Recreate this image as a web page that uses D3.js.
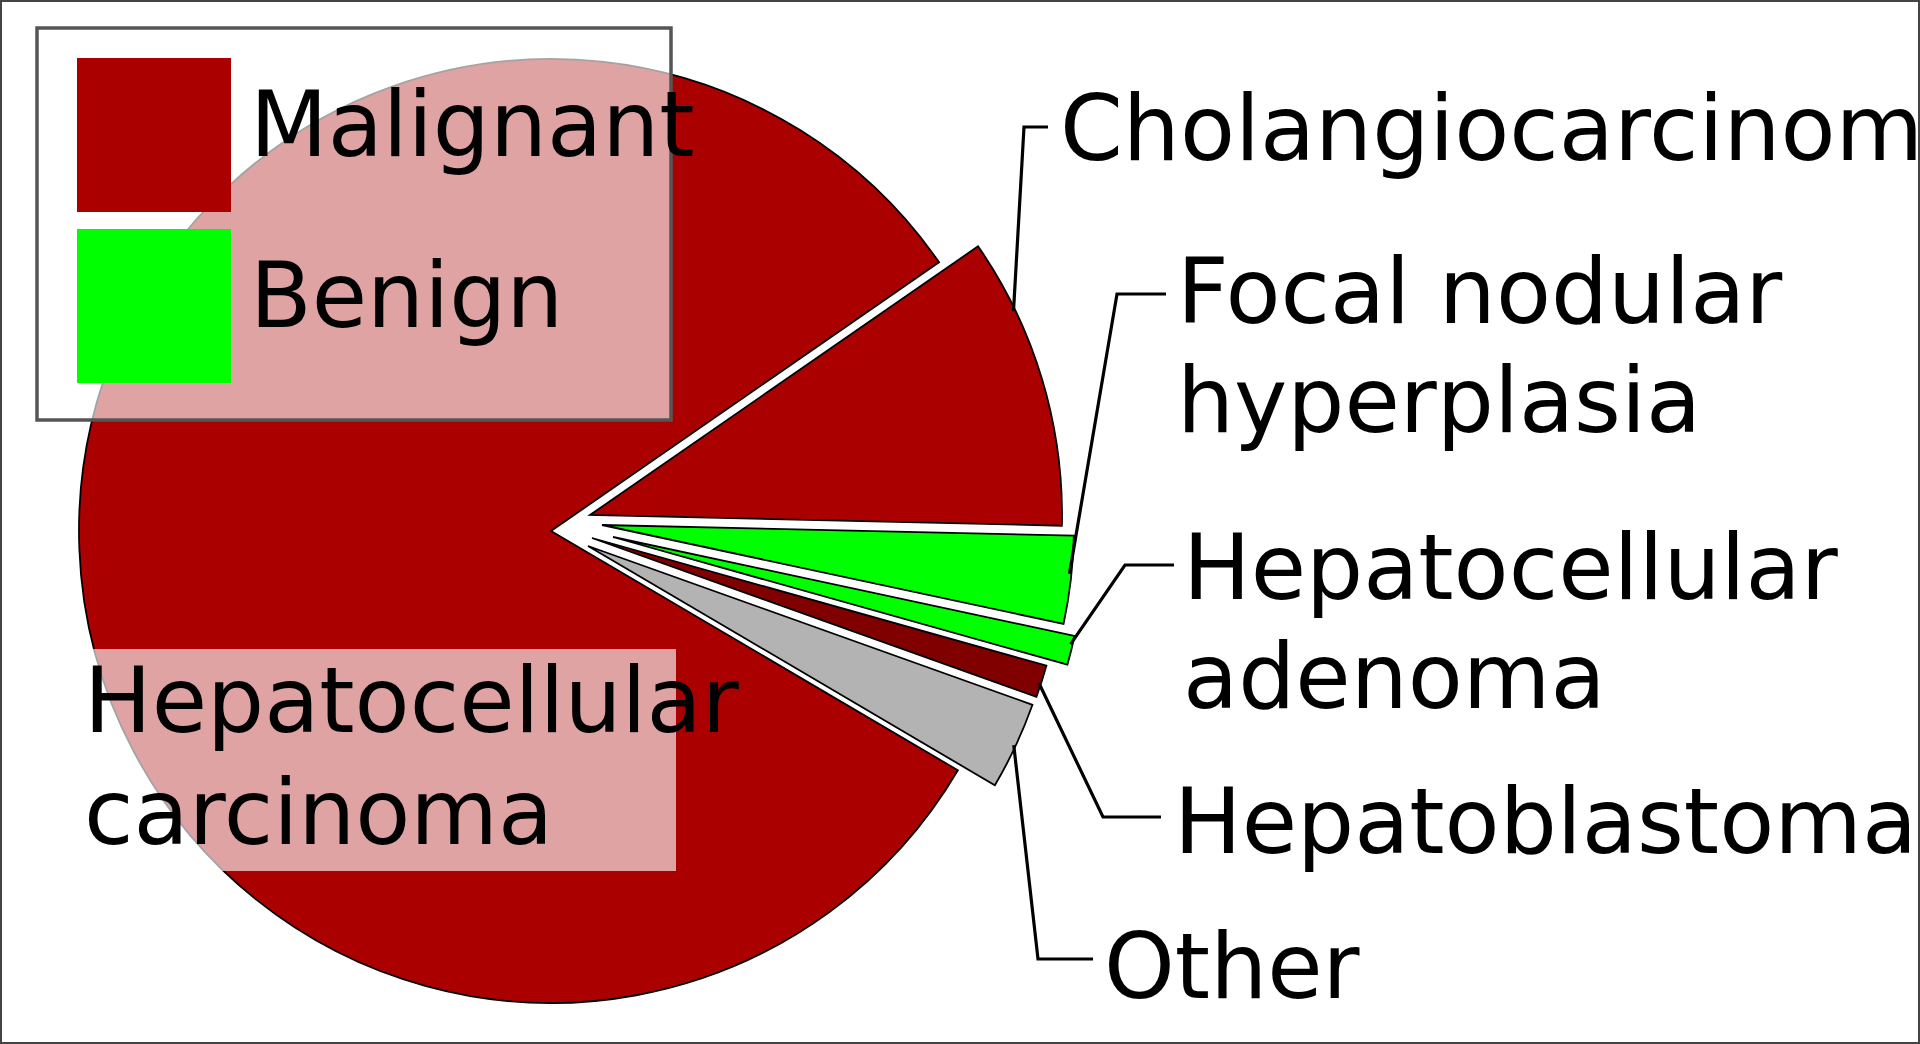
<!DOCTYPE html>
<html>
<head>
<meta charset="utf-8">
<script src="https://cdn.jsdelivr.net/npm/d3@7"></script>
<style>
  html, body { margin: 0; padding: 0; background: #fff; }
  svg { display: block; }
  text { font-family: "DejaVu Sans", sans-serif; }
</style>
</head>
<body>
<script>
// ---- data ----
const categories = ["Cholangiocarcinoma", "Focal nodular hyperplasia", "Hepatocellular adenoma", "Hepatoblastoma", "Other", "Hepatocellular carcinoma"];
const values = [10, 3, 1, 1.1, 3, 81.9];
const sliceType = ["Malignant", "Benign", "Benign", "Malignant2", "Other", "Malignant"];
const legendLabels = ["Malignant", "Benign"];
const labelLines = [["Cholangiocarcinoma"], ["Focal nodular", "hyperplasia"], ["Hepatocellular", "adenoma"], ["Hepatoblastoma"], ["Other"], ["Hepatocellular", "carcinoma"]];

// ---- layout / style ----
const W = 1920, H = 1044;
const cx = 551, cy = 531, R = 472;
const startDeg = 55.3;
const colors = { Malignant: "#aa0000", Benign: "#00ff00", Malignant2: "#800000", Other: "#b3b3b3" };
const explode = [[39, -16], [51, -6], [62, 6], [41, 7], [37, 15], [0, 0]];
// leader: t = fraction along slice angle, elbow point, line end, label x, first baseline
const leaders = [
  { t: 0.25, ex: 1024, ey: 127, end: 1048, lx: 1060, by: 160 },
  { t: 0.43, ex: 1117, ey: 294, end: 1166, lx: 1177, by: 323 },
  { t: 0.30, ex: 1125, ey: 565, end: 1174, lx: 1183, by: 599 },
  { t: 0.58, ex: 1103, ey: 817, end: 1161, lx: 1174, by: 853 },
  { t: 0.50, ex: 1038, ey: 959, end: 1093, lx: 1104, by: 998 }
];
const fontSize = 90, lineH = 109;

const svg = d3.select("body").append("svg").attr("width", W).attr("height", H);
svg.append("rect").attr("width", W).attr("height", H).attr("fill", "#fff");

const pie = d3.pie().sort(null).value(d => d)
  .startAngle(startDeg * Math.PI / 180)
  .endAngle(startDeg * Math.PI / 180 + 2 * Math.PI);
const arcs = pie(values);
const arc = d3.arc().innerRadius(0).outerRadius(R);

svg.selectAll("path.slice").data(arcs).enter().append("path")
  .attr("class", "slice")
  .attr("transform", (d, i) => `translate(${cx + explode[i][0]},${cy + explode[i][1]})`)
  .attr("d", arc)
  .attr("fill", (d, i) => colors[sliceType[i]])
  .attr("stroke", "#000")
  .attr("stroke-width", 1.8)
  .attr("stroke-linejoin", "miter");

// leader lines + labels
leaders.forEach((L, i) => {
  const a = arcs[i];
  const ang = a.startAngle + L.t * (a.endAngle - a.startAngle);
  const sx = cx + explode[i][0] + (R - 2) * Math.sin(ang);
  const sy = cy + explode[i][1] - (R - 2) * Math.cos(ang);
  svg.append("path")
    .attr("d", d3.line()([[sx, sy], [L.ex, L.ey], [L.end, L.ey]]))
    .attr("fill", "none").attr("stroke", "#000").attr("stroke-width", 3.2);
  const t = svg.append("text").attr("x", L.lx).attr("y", L.by)
    .attr("font-size", fontSize).attr("fill", "#000");
  labelLines[i].forEach((s, k) => {
    t.append("tspan").attr("x", L.lx).attr("y", L.by + k * lineH).text(s);
  });
});

// HCC label with translucent background
svg.append("rect").attr("x", 92).attr("y", 649).attr("width", 584).attr("height", 222)
  .attr("fill", "#fff").attr("fill-opacity", 0.64);
const hccT = svg.append("text").attr("font-size", fontSize).attr("fill", "#000");
labelLines[5].forEach((s, k) => {
  hccT.append("tspan").attr("x", 84).attr("y", 732 + k * 112).text(s);
});

// legend
const lg = svg.append("g");
lg.append("rect").attr("x", 37).attr("y", 28).attr("width", 634).attr("height", 392)
  .attr("fill", "#fff").attr("fill-opacity", 0.64)
  .attr("stroke", "#555").attr("stroke-width", 3.5);
legendLabels.forEach((lab, i) => {
  lg.append("rect").attr("x", 77).attr("y", 58 + i * 171).attr("width", 154).attr("height", 154)
    .attr("fill", colors[lab]);
  lg.append("text").attr("x", 250).attr("y", 156 + i * 171)
    .attr("font-size", fontSize).attr("fill", "#000").text(lab);
});

// outer frame
svg.append("rect").attr("x", 1).attr("y", 1).attr("width", W - 2).attr("height", H - 2)
  .attr("fill", "none").attr("stroke", "#444").attr("stroke-width", 2);
</script>
</body>
</html>
